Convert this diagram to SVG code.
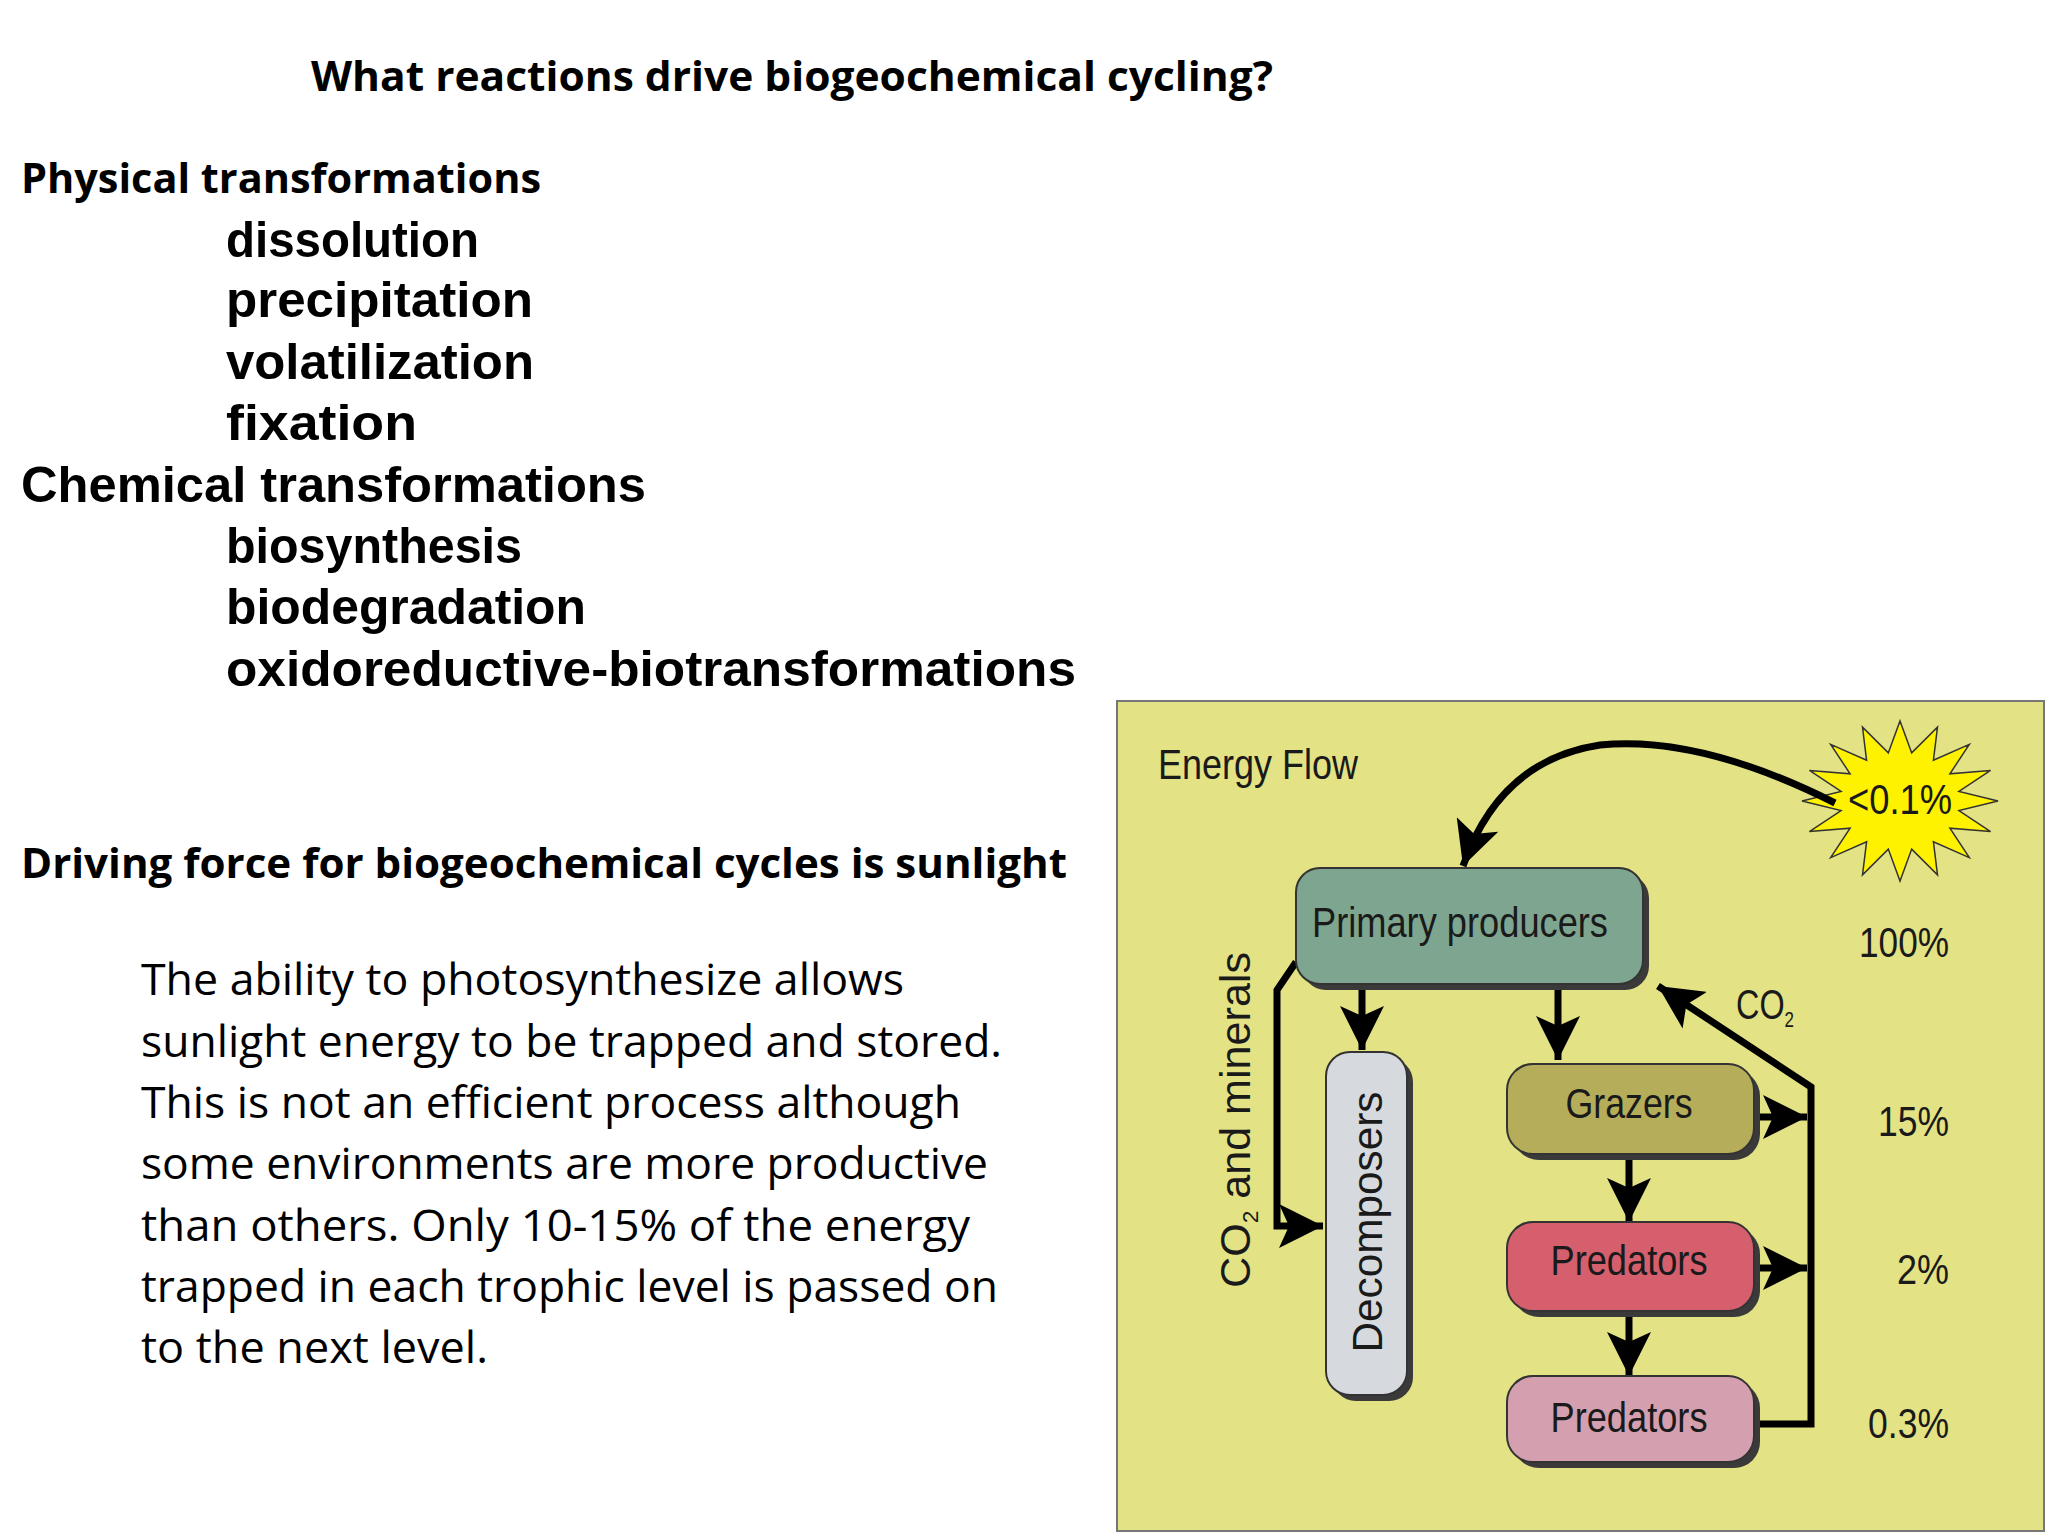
<svg xmlns="http://www.w3.org/2000/svg" width="2048" height="1536" viewBox="0 0 2048 1536">
<defs>
<style>
.h{font-family:"Open Sans","Liberation Sans",sans-serif;font-weight:bold;font-size:42px;fill:#000}
.c{font-family:"Liberation Sans","DejaVu Sans",sans-serif;font-weight:bold;font-size:50px;fill:#000}
.p{font-family:"Open Sans","Liberation Sans",sans-serif;font-size:43px;fill:#000}
.d{font-family:"Liberation Sans Narrow","Liberation Sans",sans-serif;font-size:42px;fill:#1a1a1a}
.ln{fill:none;stroke:#000;stroke-width:7}
.sh{fill:#3a3a3a}
.bx{stroke:#333;stroke-width:2}
</style>
<marker id="ah" markerUnits="userSpaceOnUse" markerWidth="48" markerHeight="44" refX="44" refY="22" orient="auto"><path d="M0,0 L44,22 L0,44 L10,22 Z" fill="#000"/></marker>
</defs>
<rect width="2048" height="1536" fill="#fff"/>
<text class="h" x="311" y="91" textLength="962" lengthAdjust="spacingAndGlyphs">What reactions drive biogeochemical cycling?</text>
<text class="h" x="21" y="193" textLength="520" lengthAdjust="spacingAndGlyphs">Physical transformations</text>
<text class="c" x="226" y="257" textLength="253" lengthAdjust="spacingAndGlyphs">dissolution</text>
<text class="c" x="226" y="317" textLength="307" lengthAdjust="spacingAndGlyphs">precipitation</text>
<text class="c" x="226" y="379" textLength="308" lengthAdjust="spacingAndGlyphs">volatilization</text>
<text class="c" x="226" y="440" textLength="191" lengthAdjust="spacingAndGlyphs">fixation</text>
<text class="c" x="21" y="502" textLength="625" lengthAdjust="spacingAndGlyphs">Chemical  transformations</text>
<text class="c" x="226" y="563" textLength="296" lengthAdjust="spacingAndGlyphs">biosynthesis</text>
<text class="c" x="226" y="624" textLength="360" lengthAdjust="spacingAndGlyphs">biodegradation</text>
<text class="c" x="226" y="686" textLength="850" lengthAdjust="spacingAndGlyphs">oxidoreductive-biotransformations</text>
<text class="h" x="21" y="878" textLength="1046" lengthAdjust="spacingAndGlyphs">Driving force for biogeochemical cycles is sunlight</text>
<g class="p">
<text x="141" y="995" textLength="763" lengthAdjust="spacingAndGlyphs">The ability to photosynthesize allows</text>
<text x="141" y="1057" textLength="861" lengthAdjust="spacingAndGlyphs">sunlight energy to be trapped and stored.</text>
<text x="141" y="1118" textLength="820" lengthAdjust="spacingAndGlyphs">This is not an efficient process although</text>
<text x="141" y="1179" textLength="847" lengthAdjust="spacingAndGlyphs">some environments are more productive</text>
<text x="141" y="1241" textLength="829" lengthAdjust="spacingAndGlyphs">than others.  Only 10-15% of the energy</text>
<text x="141" y="1302" textLength="857" lengthAdjust="spacingAndGlyphs">trapped in each trophic level is passed on</text>
<text x="141" y="1363" textLength="347" lengthAdjust="spacingAndGlyphs">to the next level.</text>
</g>
<rect x="1117" y="701" width="927" height="830" fill="#e3e284" stroke="#777" stroke-width="2"/>
<text class="d" x="1158" y="779" font-size="40" textLength="200" lengthAdjust="spacingAndGlyphs">Energy Flow</text>
<g id="sun">
<polygon points="1998,801 1958.9,810.6 1990.6,831.6 1949.9,828.2 1969.3,857.6 1933.4,841.7 1937.5,874.9 1911.7,849.1 1900,881 1888.3,849.1 1862.5,874.9 1866.6,841.7 1830.7,857.6 1850.1,828.2 1809.4,831.6 1841.1,810.6 1802,801 1841.1,791.4 1809.4,770.4 1850.1,773.8 1830.7,744.4 1866.6,760.3 1862.5,727.1 1888.3,752.9 1900,721 1911.7,752.9 1937.5,727.1 1933.4,760.3 1969.3,744.4 1949.9,773.8 1990.6,770.4 1958.9,791.4" fill="#fff200" stroke="#333" stroke-width="1.5"/>
<text class="d" x="1900" y="814" text-anchor="middle" font-size="40" textLength="104" lengthAdjust="spacingAndGlyphs">&lt;0.1%</text>
</g>
<g id="connectors">
<path class="ln" d="M1835,803 Q1700,735 1600,745 Q1500,760 1463,866" marker-end="url(#ah)"/>
<path class="ln" d="M1362,986 L1362,1050" marker-end="url(#ah)"/>
<path class="ln" d="M1558,986 L1558,1060" marker-end="url(#ah)"/>
<path class="ln" d="M1629,1156 L1629,1222" marker-end="url(#ah)"/>
<path class="ln" d="M1629,1313 L1629,1376" marker-end="url(#ah)"/>
<path class="ln" d="M1296,962 L1277,990 L1277,1226 L1323,1226" marker-end="url(#ah)"/>
<path class="ln" d="M1760,1424 L1811,1424 L1811,1087 L1658,986" marker-end="url(#ah)"/>
<path class="ln" d="M1760,1117 L1807,1117" marker-end="url(#ah)"/>
<path class="ln" d="M1760,1268 L1807,1268" marker-end="url(#ah)"/>
</g>
<g id="primary">
<rect class="sh" x="1302" y="874" width="347" height="116" rx="24"/>
<rect class="bx" x="1296" y="868" width="347" height="116" rx="24" fill="#7ea58f"/>
<text class="d" x="1460" y="937" text-anchor="middle" textLength="296" lengthAdjust="spacingAndGlyphs">Primary producers</text>
</g>
<g id="decomposers">
<rect class="sh" x="1332" y="1058" width="81" height="343" rx="24"/>
<rect class="bx" x="1326" y="1052" width="81" height="343" rx="24" fill="#d6dadf"/>
<text class="d" transform="translate(1382,1222) rotate(-90)" text-anchor="middle" textLength="261" lengthAdjust="spacingAndGlyphs">Decomposers</text>
</g>
<g id="grazers">
<rect class="sh" x="1513" y="1070" width="247" height="90" rx="26"/>
<rect class="bx" x="1507" y="1064" width="247" height="90" rx="26" fill="#b5ad5a"/>
<text class="d" x="1629" y="1118" text-anchor="middle" textLength="127" lengthAdjust="spacingAndGlyphs">Grazers</text>
</g>
<g id="predators1">
<rect class="sh" x="1513" y="1228" width="247" height="89" rx="26"/>
<rect class="bx" x="1507" y="1222" width="247" height="89" rx="26" fill="#d65f6e"/>
<text class="d" x="1629" y="1275" text-anchor="middle" textLength="157" lengthAdjust="spacingAndGlyphs">Predators</text>
</g>
<g id="predators2">
<rect class="sh" x="1513" y="1382" width="247" height="86" rx="26"/>
<rect class="bx" x="1507" y="1376" width="247" height="86" rx="26" fill="#d4a0b0"/>
<text class="d" x="1629" y="1432" text-anchor="middle" textLength="157" lengthAdjust="spacingAndGlyphs">Predators</text>
</g>
<g class="d" text-anchor="end" font-size="40">
<text x="1949" y="957" textLength="90" lengthAdjust="spacingAndGlyphs">100%</text>
<text x="1949" y="1136" textLength="71" lengthAdjust="spacingAndGlyphs">15%</text>
<text x="1949" y="1284" textLength="52" lengthAdjust="spacingAndGlyphs">2%</text>
<text x="1949" y="1438" textLength="81" lengthAdjust="spacingAndGlyphs">0.3%</text>
</g>
<text class="d" x="1736" y="1019" font-size="38" textLength="58" lengthAdjust="spacingAndGlyphs">CO<tspan font-size="22" dy="8">2</tspan></text>
<text class="d" transform="translate(1250,1120) rotate(-90)" text-anchor="middle" font-size="38" textLength="336" lengthAdjust="spacingAndGlyphs">CO<tspan font-size="22" dy="8">2</tspan><tspan dy="-8"> and minerals</tspan></text>
</svg>
